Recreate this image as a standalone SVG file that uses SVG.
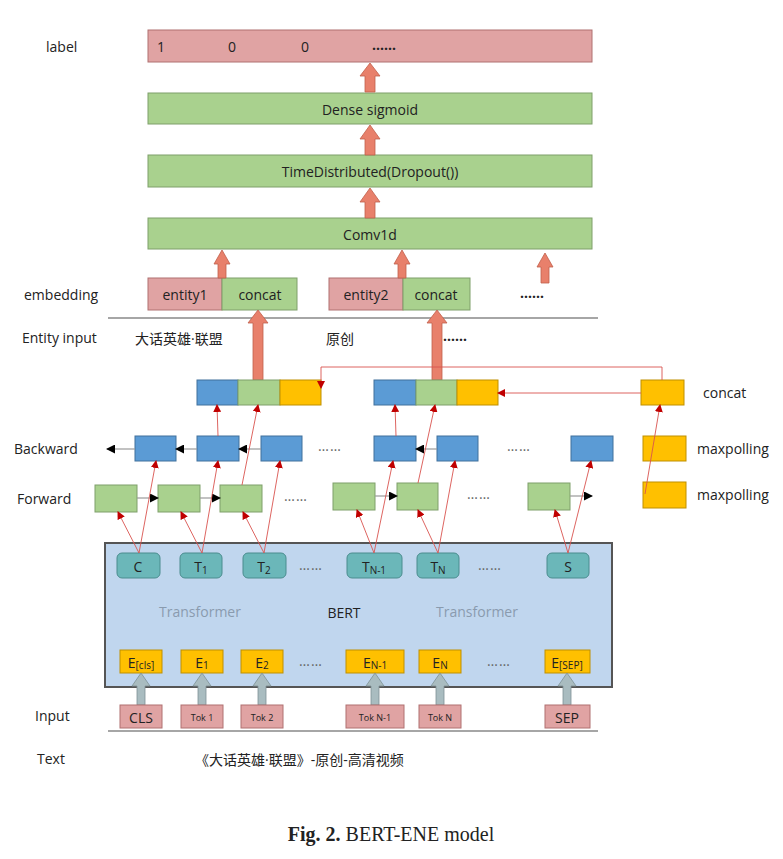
<svg xmlns="http://www.w3.org/2000/svg" width="783" height="859" viewBox="0 0 783 859">
<style>
text{font-family:"Open Sans","Liberation Sans","Noto Sans CJK SC",sans-serif;fill:#222}
.lbl{font-size:14px}
.pk{fill:#E0A3A3;stroke:#B07070;stroke-width:1}
.gr{fill:#A9D18E;stroke:#7F9F6A;stroke-width:1}
.bl{fill:#5B9BD5;stroke:#41719C;stroke-width:1}
.ye{fill:#FFC000;stroke:#BF9000;stroke-width:1}
.te{fill:#6BB7B9;stroke:#4A8C8E;stroke-width:1}
.tk{fill:#E0A3A3;stroke:#B07070;stroke-width:1}
.ct{text-anchor:middle;dominant-baseline:central}
.rl{stroke:#D9534F;stroke-width:0.9;fill:none;marker-end:url(#ra)}
.bk{stroke:#999;stroke-width:1.2;fill:none;marker-end:url(#ba)}
.fat{fill:#E8806B;stroke:#C0604B;stroke-width:0.8}
.gfat{fill:#A9BCC0;stroke:#7E9094;stroke-width:0.8}
.dots{font-size:14px;fill:#666;letter-spacing:1px}
.tr{font-size:14px;fill:#8A9BAE}
</style>
<defs>
<marker id="ra" markerWidth="8" markerHeight="8" refX="7" refY="4" orient="auto" markerUnits="userSpaceOnUse"><path d="M0,0L8,4L0,8z" fill="#C00000"/></marker>
<marker id="ba" markerWidth="9" markerHeight="9" refX="8" refY="4.5" orient="auto" markerUnits="userSpaceOnUse"><path d="M0,0L9,4.5L0,9z" fill="#000"/></marker>
</defs>
<rect width="783" height="859" fill="#fff"/>
<g id="labels" class="lbl">
<text x="46" y="52">label</text>
<text x="24" y="300">embedding</text>
<text x="22" y="343">Entity input</text>
<text x="14" y="454">Backward</text>
<text x="17" y="504">Forward</text>
<text x="35" y="721">Input</text>
<text x="37" y="764">Text</text>
</g>
<g id="label-row"><rect class="pk" x="148" y="30" width="444" height="32"/>
<text x="157" y="52" class="lbl">1</text><text x="228" y="52" class="lbl">0</text><text x="301" y="52" class="lbl">0</text><text x="372" y="50" class="lbl" font-weight="bold">……</text></g>
<g id="dense"><rect class="gr" x="148" y="93" width="444" height="31"/><text x="370" y="109" class="ct lbl">Dense  sigmoid</text></g>
<g id="td"><rect class="gr" x="148" y="155" width="444" height="32"/><text x="370" y="171" class="ct lbl">TimeDistributed(Dropout())</text></g>
<g id="conv"><rect class="gr" x="148" y="218" width="444" height="31"/><text x="370" y="234" class="ct lbl">Comv1d</text></g>
<g id="emb1"><rect class="pk" x="148" y="278" width="74" height="32"/><rect class="gr" x="222" y="278" width="75" height="32"/><text x="185" y="294" class="ct lbl">entity1</text><text x="260" y="294" class="ct lbl">concat</text></g>
<g id="emb2"><rect class="pk" x="329" y="278" width="74" height="32"/><rect class="gr" x="403" y="278" width="67" height="32"/><text x="366" y="294" class="ct lbl">entity2</text><text x="436" y="294" class="ct lbl">concat</text></g>
<text x="520" y="298" class="lbl" font-weight="bold">……</text>
<line x1="108" y1="318" x2="598" y2="318" stroke="#888" stroke-width="1.5"/>
<g id="entity-input" class="lbl"><text x="135" y="344">大话英雄·联盟</text><text x="326" y="344">原创</text><text x="443" y="341" font-weight="bold">……</text></g>
<g id="fat-arrows">
<path class="fat" d="M365,92V76H360L370,63L380,76H375V92Z"/>
<path class="fat" d="M365,155V139H360L370,125L380,139H375V155Z"/>
<path class="fat" d="M365,218V202H360L370,188L380,202H375V218Z"/>
<path class="fat" d="M218,278V264H214L222,250L230,264H226V278Z"/>
<path class="fat" d="M398,278V264H394L402,250L410,264H406V278Z"/>
<path class="fat" d="M541,283V267H537L545,253L553,267H549V283Z"/>
<path class="fat" d="M253,380V323H248L258,310L268,323H263V380Z"/>
<path class="fat" d="M432,380V323H427L437,310L447,323H442V380Z"/>
</g>
<g id="concat1"><rect class="bl" x="197" y="380" width="41" height="25"/><rect class="gr" x="238" y="380" width="42" height="25"/><rect class="ye" x="280" y="380" width="41" height="25"/></g>
<g id="concat2"><rect class="bl" x="374" y="380" width="42" height="25"/><rect class="gr" x="416" y="380" width="41" height="25"/><rect class="ye" x="457" y="380" width="41" height="25"/></g>
<g id="concat3"><rect class="ye" x="641" y="380" width="43" height="25"/><text x="703" y="398" class="lbl">concat</text></g>
<g id="bw">
<rect class="bl" x="135" y="436" width="41" height="25"/><rect class="bl" x="197" y="436" width="42" height="25"/><rect class="bl" x="261" y="436" width="41" height="25"/>
<rect class="bl" x="374" y="436" width="42" height="25"/><rect class="bl" x="437" y="436" width="41" height="25"/><rect class="bl" x="571" y="436" width="42" height="25"/>
<text x="318" y="451" class="dots">……</text><text x="507" y="451" class="dots">……</text>
<rect class="ye" x="643" y="436" width="43" height="25"/><text x="697" y="454" class="lbl">maxpolling</text>
</g>
<g id="fw">
<rect class="gr" x="95" y="485" width="42" height="27"/><rect class="gr" x="158" y="485" width="42" height="27"/><rect class="gr" x="220" y="485" width="42" height="27"/>
<rect class="gr" x="333" y="483" width="42" height="27"/><rect class="gr" x="397" y="483" width="41" height="27"/><rect class="gr" x="528" y="483" width="42" height="27"/>
<text x="284" y="501" class="dots">……</text><text x="467" y="499" class="dots">……</text>
<rect class="ye" x="643" y="482" width="43" height="26"/><text x="697" y="500" class="lbl">maxpolling</text>
</g>
<g id="bert">
<rect x="105" y="543" width="507" height="144" fill="#C0D6EE" stroke="#555" stroke-width="2"/>
<rect class="te" x="117" y="553" width="43" height="25" rx="5"/><text x="138" y="566" class="ct lbl">C</text>
<rect class="te" x="180" y="553" width="42" height="25" rx="5"/><text x="201" y="566" class="ct lbl">T<tspan font-size="10" dy="4">1</tspan></text>
<rect class="te" x="243" y="553" width="43" height="25" rx="5"/><text x="264" y="566" class="ct lbl">T<tspan font-size="10" dy="4">2</tspan></text>
<rect class="te" x="347" y="553" width="55" height="25" rx="5"/><text x="374" y="566" class="ct lbl">T<tspan font-size="10" dy="4">N-1</tspan></text>
<rect class="te" x="417" y="553" width="42" height="25" rx="5"/><text x="438" y="566" class="ct lbl">T<tspan font-size="10" dy="4">N</tspan></text>
<rect class="te" x="547" y="553" width="42" height="25" rx="5"/><text x="568" y="566" class="ct lbl">S</text>
<text x="299" y="570" class="dots">……</text><text x="478" y="570" class="dots">……</text>
<text x="200" y="611" class="ct tr">Transformer</text>
<text x="344" y="612" class="ct lbl">BERT</text>
<text x="477" y="611" class="ct tr">Transformer</text>
<rect class="ye" x="120" y="650" width="42" height="23"/><text x="141" y="662" class="ct lbl">E<tspan font-size="10" dy="3">[cls]</tspan></text>
<rect class="ye" x="181" y="650" width="42" height="23"/><text x="202" y="662" class="ct lbl">E<tspan font-size="10" dy="3">1</tspan></text>
<rect class="ye" x="241" y="650" width="42" height="23"/><text x="262" y="662" class="ct lbl">E<tspan font-size="10" dy="3">2</tspan></text>
<rect class="ye" x="346" y="650" width="58" height="23"/><text x="375" y="662" class="ct lbl">E<tspan font-size="10" dy="3">N-1</tspan></text>
<rect class="ye" x="419" y="650" width="42" height="23"/><text x="440" y="662" class="ct lbl">E<tspan font-size="10" dy="3">N</tspan></text>
<rect class="ye" x="545" y="650" width="45" height="23"/><text x="567" y="662" class="ct lbl">E<tspan font-size="10" dy="3">[SEP]</tspan></text>
<text x="299" y="666" class="dots">……</text><text x="487" y="666" class="dots">……</text>
</g>
<g id="tok-arrows">
<path class="gfat" d="M137,705V686H132L141,673L150,686H145V705Z"/>
<path class="gfat" d="M198,705V686H193L202,673L211,686H206V705Z"/>
<path class="gfat" d="M258,705V686H253L262,673L271,686H266V705Z"/>
<path class="gfat" d="M371,705V686H366L375,673L384,686H379V705Z"/>
<path class="gfat" d="M436,705V686H431L440,673L449,686H444V705Z"/>
<path class="gfat" d="M563,705V686H558L567,673L576,686H571V705Z"/>
</g>
<g id="tokens">
<rect class="tk" x="120" y="705" width="42" height="23"/><text x="141" y="717" class="ct lbl">CLS</text>
<rect class="tk" x="181" y="705" width="42" height="23"/><text x="202" y="717" class="ct" font-size="9">Tok 1</text>
<rect class="tk" x="241" y="705" width="42" height="23"/><text x="262" y="717" class="ct" font-size="9">Tok 2</text>
<rect class="tk" x="346" y="705" width="58" height="23"/><text x="375" y="717" class="ct" font-size="9">Tok N-1</text>
<rect class="tk" x="419" y="705" width="42" height="23"/><text x="440" y="717" class="ct" font-size="9">Tok N</text>
<rect class="tk" x="545" y="705" width="45" height="23"/><text x="567" y="717" class="ct lbl">SEP</text>
</g>
<line x1="108" y1="731" x2="598" y2="731" stroke="#888" stroke-width="1.5"/>
<text x="195" y="765" class="lbl">《大话英雄·联盟》-原创-高清视频</text>
<g id="connectors">
<line class="bk" x1="135" y1="449" x2="107" y2="449"/>
<line class="bk" x1="197" y1="449" x2="176" y2="449"/>
<line class="bk" x1="261" y1="449" x2="239" y2="449"/>
<line class="bk" x1="437" y1="449" x2="416" y2="449"/>
<line class="bk" x1="137" y1="498" x2="158" y2="498"/>
<line class="bk" x1="200" y1="498" x2="220" y2="498"/>
<line class="bk" x1="375" y1="496" x2="397" y2="496"/>
<line class="bk" x1="570" y1="496" x2="592" y2="496"/>
<line class="rl" x1="139" y1="553" x2="118" y2="512"/><line class="rl" x1="139" y1="553" x2="156" y2="461"/>
<line class="rl" x1="202" y1="553" x2="181" y2="512"/><line class="rl" x1="202" y1="553" x2="218" y2="461"/>
<line class="rl" x1="264" y1="553" x2="243" y2="512"/><line class="rl" x1="264" y1="553" x2="280" y2="461"/>
<line class="rl" x1="374" y1="553" x2="357" y2="510"/><line class="rl" x1="374" y1="553" x2="393" y2="461"/>
<line class="rl" x1="438" y1="553" x2="418" y2="510"/><line class="rl" x1="438" y1="553" x2="455" y2="461"/>
<line class="rl" x1="568" y1="553" x2="555" y2="510"/><line class="rl" x1="568" y1="553" x2="591" y2="461"/>
<line class="rl" x1="218" y1="436" x2="217" y2="405"/>
<line class="rl" x1="242" y1="485" x2="258" y2="405"/>
<line class="rl" x1="396" y1="436" x2="395" y2="405"/>
<line class="rl" x1="418" y1="483" x2="435" y2="405"/>
<line class="rl" x1="645" y1="494" x2="660" y2="405"/>
<polyline class="rl" points="662,380 662,367 321,367 321,388"/>
<line class="rl" x1="641" y1="393" x2="498" y2="393"/>
</g>
<text x="391" y="841" text-anchor="middle" font-size="20" style="font-family:'Liberation Serif',serif"><tspan font-weight="bold">Fig. 2.</tspan> BERT-ENE model</text>
</svg>
